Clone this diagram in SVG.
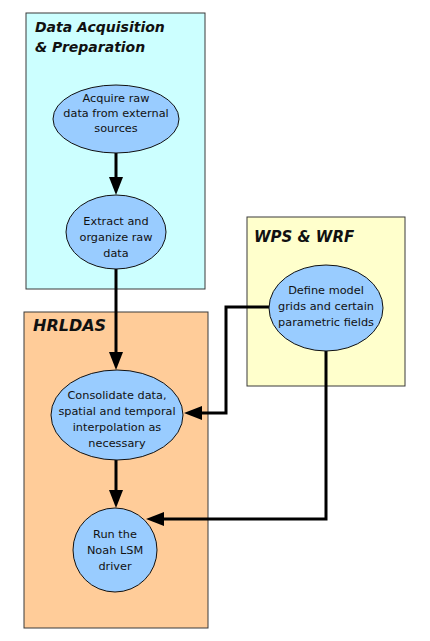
<svg xmlns="http://www.w3.org/2000/svg" width="430" height="641" viewBox="0 0 430 641">
<defs>
<style>
.box{stroke:#3a3a3a;stroke-width:1}
.title{font-family:"DejaVu Sans",sans-serif;font-weight:bold;font-style:italic;font-size:14px;fill:#111}
.node{fill:#99ccff;stroke:#111;stroke-width:1}
.lbl{font-family:"DejaVu Sans",sans-serif;font-size:11.3px;fill:#111;text-anchor:middle}
.conn{fill:none;stroke:#000;stroke-width:3}
</style>
<marker id="ah" markerUnits="userSpaceOnUse" markerWidth="20" markerHeight="16" refX="0" refY="7" orient="auto">
<path d="M0,0 L18,7 L0,14 Z" fill="#000"/>
</marker>
</defs>
<rect width="430" height="641" fill="#fff"/>
<g id="group-acquisition">
<rect class="box" x="26" y="13" width="179" height="276" fill="#ccffff"/>
<text class="title" x="35" y="32">Data Acquisition</text>
<text class="title" x="35" y="52">&amp; Preparation</text>
</g>
<g id="group-wps">
<rect class="box" x="247" y="217" width="158" height="169" fill="#ffffcc"/>
<text class="title" x="254" y="242" style="font-size:15px">WPS &amp; WRF</text>
</g>
<g id="group-hrldas">
<rect class="box" x="24" y="312" width="184" height="316" fill="#ffcc99"/>
<text class="title" x="33" y="331" style="font-size:16px">HRLDAS</text>
</g>
<g id="connectors">
<path class="conn" d="M116,153 V177" marker-end="url(#ah)"/>
<path class="conn" d="M116,269 V352" marker-end="url(#ah)"/>
<path class="conn" d="M116,460 V490" marker-end="url(#ah)"/>
<path class="conn" d="M269,307 H226 V413 H202" marker-end="url(#ah)"/>
<path class="conn" d="M326,351 V519 H164" marker-end="url(#ah)"/>
</g>
<g id="node-acquire">
<ellipse class="node" cx="116" cy="119" rx="63" ry="34"/>
<text class="lbl" x="116" y="102">Acquire raw</text>
<text class="lbl" x="116" y="117">data from external</text>
<text class="lbl" x="116" y="132">sources</text>
</g>
<g id="node-extract">
<ellipse class="node" cx="116" cy="232" rx="50" ry="37"/>
<text class="lbl" x="116" y="225">Extract and</text>
<text class="lbl" x="116" y="241">organize raw</text>
<text class="lbl" x="116" y="257">data</text>
</g>
<g id="node-define">
<ellipse class="node" cx="326" cy="308" rx="57" ry="43"/>
<text class="lbl" x="326" y="294">Define model</text>
<text class="lbl" x="326" y="310">grids and certain</text>
<text class="lbl" x="326" y="326">parametric fields</text>
</g>
<g id="node-consolidate">
<ellipse class="node" cx="117" cy="415" rx="66" ry="45"/>
<text class="lbl" x="117" y="399">Consolidate data,</text>
<text class="lbl" x="117" y="415">spatial and temporal</text>
<text class="lbl" x="117" y="431">interpolation as</text>
<text class="lbl" x="117" y="447">necessary</text>
</g>
<g id="node-run">
<circle class="node" cx="115" cy="550" r="42"/>
<text class="lbl" x="115" y="538">Run the</text>
<text class="lbl" x="115" y="554">Noah LSM</text>
<text class="lbl" x="115" y="570">driver</text>
</g>
</svg>
